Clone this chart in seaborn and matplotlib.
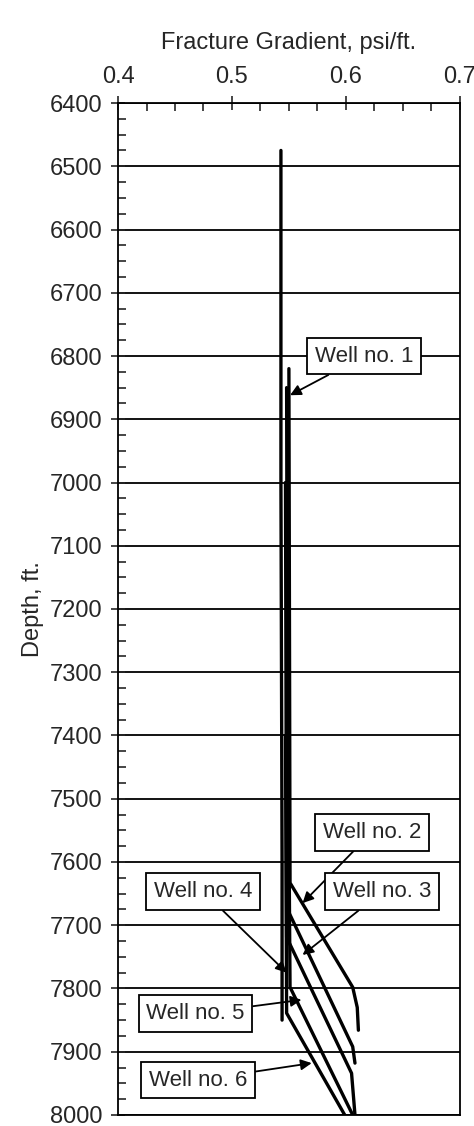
import matplotlib
matplotlib.use("Agg")
import matplotlib.pyplot as plt
import seaborn as sns
import pandas as pd
from matplotlib.ticker import MultipleLocator

wells = ["Well no. 1", "Well no. 2", "Well no. 3", "Well no. 4", "Well no. 5", "Well no. 6"]
grad_1 = [0.543, 0.543, 0.544, 0.544]
depth_1 = [6475, 7000, 7600, 7850]
grad_2 = [0.550, 0.551, 0.606, 0.610, 0.611]
depth_2 = [6820, 7633, 7798, 7830, 7866]
grad_3 = [0.548, 0.549, 0.606, 0.608]
depth_3 = [6850, 7676, 7892, 7918]
grad_4 = [0.547, 0.548, 0.605, 0.608]
depth_4 = [7000, 7719, 7934, 8000]
grad_5 = [0.549, 0.551, 0.606]
depth_5 = [7300, 7798, 8000]
grad_6 = [0.547, 0.548, 0.599]
depth_6 = [7400, 7839, 8000]

label_x = [0.616, 0.623, 0.632, 0.475, 0.468, 0.470]
label_y = [6800, 7553, 7647, 7647, 7840, 7945]
arrow_x = [0.551, 0.562, 0.562, 0.548, 0.561, 0.570]
arrow_y = [6862, 7665, 7747, 7775, 7818, 7918]

grads = [grad_1, grad_2, grad_3, grad_4, grad_5, grad_6]
depths = [depth_1, depth_2, depth_3, depth_4, depth_5, depth_6]
rows = []
for w, g, d in zip(wells, grads, depths):
    for gi, di in zip(g, d):
        rows.append({"well": w, "grad": gi, "depth": di})
df = pd.DataFrame(rows)

sns.set_style("ticks")
plt.rcParams["font.family"] = ["Liberation Sans", "DejaVu Sans"]
fig = plt.figure(figsize=(4.74, 11.26), dpi=100)
ax = fig.add_axes([0.249, 0.0098, 0.721, 0.8987])
sns.lineplot(data=df, x="grad", y="depth", units="well", estimator=None, sort=False,
             color="black", linewidth=2.4, ax=ax, legend=False)
ax.set_xlim(0.4, 0.7)
ax.set_ylim(8000, 6400)
ax.xaxis.tick_top()
ax.xaxis.set_label_position("top")
ax.xaxis.set_minor_locator(MultipleLocator(0.025))
ax.yaxis.set_major_locator(MultipleLocator(100))
ax.yaxis.set_minor_locator(MultipleLocator(25))
ax.set_xticks([0.4, 0.5, 0.6, 0.7])
ax.set_xticklabels(["0.4", "0.5", "0.6", "0.7"])
ax.tick_params(which="major", direction="inout", length=10, width=1.2, labelsize=17, pad=6)
ax.tick_params(which="minor", direction="in", length=6, width=1.2)
ax.tick_params(axis="x", which="both", top=True, bottom=False)
ax.set_xlabel("Fracture Gradient, psi/ft.", fontsize=17, labelpad=12)
ax.set_ylabel("Depth, ft.", fontsize=17, labelpad=4)
ax.grid(axis="y", which="major", color="black", linewidth=1.3)
for s in ax.spines.values():
    s.set_color("black")
    s.set_linewidth(1.3)

for w, lx, ly, axx, ayy in zip(wells, label_x, label_y, arrow_x, arrow_y):
    ax.annotate(w, xy=(axx, ayy), xytext=(lx, ly), fontsize=16, ha="center", va="center",
                bbox=dict(boxstyle="square,pad=0.35", fc="white", ec="black", lw=1.3),
                arrowprops=dict(arrowstyle="-|>", color="black", lw=1.3, shrinkA=0, shrinkB=0))

fig.savefig("out.png", dpi=100)
